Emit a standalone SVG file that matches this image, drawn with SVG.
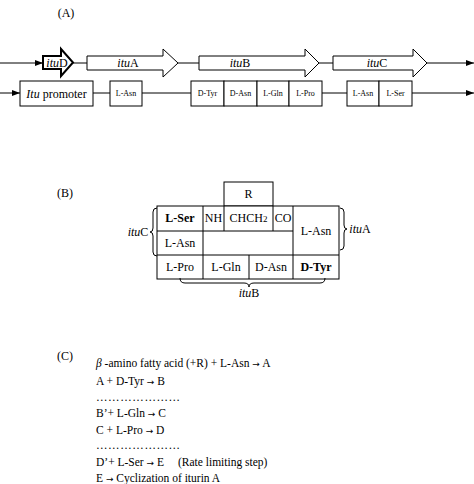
<svg xmlns="http://www.w3.org/2000/svg" width="474" height="484" viewBox="0 0 474 484">
<defs>
<marker id="ah" markerWidth="8" markerHeight="6" refX="8" refY="3" orient="auto" markerUnits="userSpaceOnUse"><path d="M0,0 L8,3 L0,6 Z" fill="#000"/></marker>
<style>
text{font-family:"Liberation Serif","Times New Roman",serif;fill:#000}
.g{fill:#fff;stroke:#000;stroke-width:1}
.gd{fill:#fff;stroke:#000;stroke-width:2}
.bx{fill:#fff;stroke:#000;stroke-width:1}
.ln{fill:none;stroke:#000;stroke-width:1}
.br{fill:none;stroke:#000;stroke-width:1}
.gl{font-size:12px;text-anchor:middle}
.sm{font-size:8px;text-anchor:middle}
.tb{font-size:12px;text-anchor:middle}
.b{font-weight:bold}
.eq{font-size:11.5px}
.ar{font-family:"DejaVu Sans",sans-serif;font-size:9px}
.pl{font-size:12px;text-anchor:middle}
</style>
</defs>
<text class="pl" x="66" y="17">(A)</text>
<g id="connectors">
<line class="ln" x1="0" y1="63" x2="43" y2="63" marker-end="url(#ah)"/>
<line class="ln" x1="73" y1="63" x2="87" y2="63"/>
<line class="ln" x1="178" y1="63" x2="199" y2="63"/>
<line class="ln" x1="319" y1="63" x2="333" y2="63"/>
<line class="ln" x1="427" y1="63" x2="474" y2="63" marker-end="url(#ah)"/>
<line class="ln" x1="0" y1="93" x2="20" y2="93" marker-end="url(#ah)"/>
<line class="ln" x1="93" y1="93" x2="110" y2="93"/>
<line class="ln" x1="142" y1="93" x2="191" y2="93"/>
<line class="ln" x1="322" y1="93" x2="347" y2="93"/>
<line class="ln" x1="412" y1="93" x2="474" y2="93" marker-end="url(#ah)"/>
</g>
<g id="ituD"><path class="gd" d="M43,56 H61 V49 L73,62.5 L61,76 V69 H43 Z"/><text class="gl" x="57" y="67" font-size="11"><tspan font-style="italic">itu</tspan>D</text></g>
<g id="ituA"><path class="g" d="M87,56 H163 V49 L178,63 L163,77 V70 H87 Z"/><text class="gl" x="128" y="67"><tspan font-style="italic">itu</tspan>A</text></g>
<g id="ituB"><path class="g" d="M199,56 H305 V49 L319,63 L305,77 V70 H199 Z"/><text class="gl" x="240" y="67"><tspan font-style="italic">itu</tspan>B</text></g>
<g id="ituC"><path class="g" d="M333,56 H413 V49 L427,63 L413,77 V70 H333 Z"/><text class="gl" x="377" y="67"><tspan font-style="italic">itu</tspan>C</text></g>
<g id="promoter"><rect class="bx" x="20" y="81" width="73" height="25"/><text class="gl" x="56.5" y="98" font-size="13"><tspan font-style="italic">Itu</tspan> promoter</text></g>
<g id="a-lasn"><rect class="bx" x="110" y="81" width="32" height="25"/><text class="sm" x="126" y="96">L-Asn</text></g>
<g id="a-dtyr"><rect class="bx" x="191" y="81" width="33" height="25"/><text class="sm" x="207.5" y="96">D-Tyr</text></g>
<g id="a-dasn"><rect class="bx" x="224" y="81" width="33" height="25"/><text class="sm" x="240.5" y="96">D-Asn</text></g>
<g id="a-lgln"><rect class="bx" x="257" y="81" width="32" height="25"/><text class="sm" x="273" y="96">L-Gln</text></g>
<g id="a-lpro"><rect class="bx" x="289" y="81" width="33" height="25"/><text class="sm" x="305.5" y="96">L-Pro</text></g>
<g id="c-lasn"><rect class="bx" x="347" y="81" width="32" height="25"/><text class="sm" x="363" y="96">L-Asn</text></g>
<g id="c-lser"><rect class="bx" x="379" y="81" width="33" height="25"/><text class="sm" x="395.5" y="96">L-Ser</text></g>

<text class="pl" x="65" y="197">(B)</text>
<g id="ring">
<rect class="bx" x="224" y="182" width="49" height="24"/><text class="tb" x="248.5" y="198">R</text>
<rect class="bx" x="157" y="206" width="182" height="73"/>
<line class="ln" x1="157" y1="231" x2="293" y2="231"/>
<line class="ln" x1="157" y1="255" x2="339" y2="255"/>
<line class="ln" x1="203" y1="206" x2="203" y2="279" stroke-width="1.5"/>
<line class="ln" x1="224" y1="206" x2="224" y2="231"/>
<line class="ln" x1="273" y1="206" x2="273" y2="231" stroke-width="1.5"/>
<line class="ln" x1="293" y1="206" x2="293" y2="279"/>
<line class="ln" x1="249" y1="255" x2="249" y2="279"/>
<text class="tb b" x="180" y="222">L-Ser</text>
<text class="tb" x="213.5" y="222">NH</text>
<text class="tb" x="248.5" y="222">CHCH<tspan font-size="9">2</tspan></text>
<text class="tb" x="283" y="222">CO</text>
<text class="tb" x="316" y="235">L-Asn</text>
<text class="tb" x="180" y="247">L-Asn</text>
<text class="tb" x="180" y="271">L-Pro</text>
<text class="tb" x="226" y="271">L-Gln</text>
<text class="tb" x="271" y="271">D-Asn</text>
<text class="tb b" x="316" y="271">D-Tyr</text>
</g>
<g id="braces">
<path class="br" d="M157,208 Q153,208 153,212 V228 Q153,232 150,232 Q153,232 153,236 V252 Q153,256 157,256"/>
<text class="tb" x="138" y="236"><tspan font-style="italic">itu</tspan>C</text>
<path class="br" d="M340,208 Q344,208 344,212 V225 Q344,229 347,229 Q344,229 344,233 V246 Q344,250 340,250"/>
<text class="tb" x="360" y="233"><tspan font-style="italic">itu</tspan>A</text>
<path class="br" d="M180,278 Q180,283 185,283 H244 Q249,283 249,287 Q249,283 254,283 H320 Q325,283 325,278"/>
<text class="tb" x="249" y="297"><tspan font-style="italic">itu</tspan>B</text>
</g>

<text class="pl" x="65" y="360">(C)</text>
<g id="equations">
<text class="eq" x="96" y="367"><tspan font-style="italic">β</tspan> -amino fatty acid (+R) + L-Asn <tspan class="ar">→</tspan> A</text>
<text class="eq" x="96" y="385">A + D-Tyr <tspan class="ar">→</tspan> B</text>
<text class="eq" x="96" y="401" letter-spacing="0.6">…………………</text>
<text class="eq" x="96" y="417">B’+ L-Gln <tspan class="ar">→</tspan> C</text>
<text class="eq" x="96" y="434">C + L-Pro <tspan class="ar">→</tspan> D</text>
<text class="eq" x="96" y="449" letter-spacing="0.6">…………………</text>
<text class="eq" x="96" y="466">D’+ L-Ser <tspan class="ar">→</tspan> E</text>
<text class="eq" x="178" y="466">(Rate limiting step)</text>
<text class="eq" x="96" y="482">E <tspan class="ar">→</tspan> Cyclization of iturin A</text>
</g>
</svg>
